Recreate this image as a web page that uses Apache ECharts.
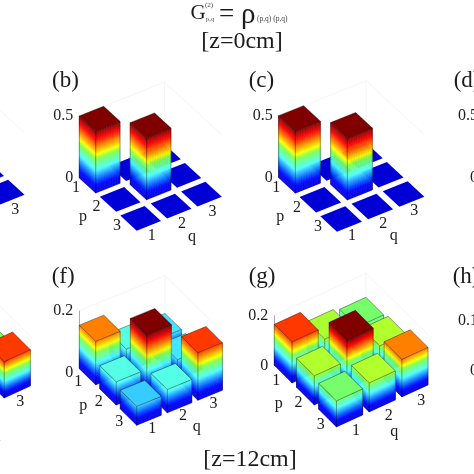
<!DOCTYPE html>
<html><head><meta charset="utf-8">
<style>html,body{margin:0;padding:0;background:#fff}#c{width:474px;height:474px}</style>
<script src="https://cdn.jsdelivr.net/npm/echarts@6/dist/echarts.min.js"></script>
</head><body><div id="c"></div>
<script>
// Values: rows are p=1..3, columns q=1..3
const panelA = [[0.5,0,0],[0,0.5,0],[0,0,0]];
const panelB = [[0.5,0,0],[0,0.5,0],[0,0,0]];
const panelC = [[0.5,0,0],[0,0.5,0],[0,0,0]];
const panelE = [[0.13,0.1,0.09],[0.1,0.177,0.095],[0.09,0.1,0.145]];
const panelF = [[0.15,0.08,0.07],[0.08,0.2,0.07],[0.065,0.08,0.164]];
const panelG = [[0.164,0.115,0.104],[0.116,0.2,0.116],[0.104,0.116,0.15]];
const pTicks = ['1','2','3'];
const qTicks = ['1','2','3'];
const zTicksTop = ['0','0.5'];
const zTicksF = ['0','0.2'];
const zTicksH = ['0','0.1'];

const SERIF = '"Liberation Serif", serif';
const TXT = '#1c1c1c';
const panels = [
  {v:panelA, o:[-118,176], pp:[20.5,18.8], pq:[30.4,-12.1], k:124, zmax:0.5, z:zTicksTop, pOff:[-3.3,10], qOff:[15,5.3], pT:[3.7,38.7], qT:[55.3,6.3]},
  {v:panelB, o:[79.3,178], pp:[20.5,18.8], pq:[30.4,-12.1], k:124, zmax:0.5, z:zTicksTop, pOff:[-3.3,10], qOff:[15,5.3], pT:[3.7,38.7], qT:[55.3,6.3]},
  {v:panelC, o:[278.7,177.7], pp:[20.8,19.3], pq:[31.2,-12.5], k:124, zmax:0.5, z:zTicksTop, pOff:[-2.4,10.3], qOff:[15,4.3], pT:[1.6,39.3], qT:[56.7,4.3]},
  {v:null, o:[484,177.5], pp:[20.5,18.8], pq:[30.4,-12.1], k:124, zmax:0.5, z:zTicksTop},
  {v:panelE, o:[-123.4,366.3], pp:[22.2,22], pq:[32.7,-15], k:250, zmax:0.2, z:zTicksF, pOff:[2,15], qOff:[16,3.4], pT:[4.4,38.4], qT:[57.8,4.4]},
  {v:panelF, o:[79.3,368.7], pp:[20.5,20.2], pq:[30.6,-12.5], k:290, zmax:0.2, z:zTicksF, zPad:9, pOff:[-1,12.6], qOff:[15.6,3.4], pT:[4,36.6], qT:[60,1.7]},
  {v:panelG, o:[274.3,365.3], pp:[22.2,22], pq:[32.7,-15], k:250, zmax:0.2, z:zTicksF, pOff:[2,15], qOff:[19.5,3.4], pT:[4.4,38.4], qT:[57.8,4.4]},
  {v:null, o:[484,371], pp:[20.5,20.2], pq:[30.6,-12.5], k:500, zmax:0.1, z:zTicksH}
];
const FRAC = 0.8;
const BANDS = 64;

function jet(t){
  t = Math.max(0, Math.min(1, t));
  const c = (x) => Math.round(255 * Math.max(0, Math.min(1, x)));
  const r = t < 0.2 ? 0 : t < 0.375 ? 0.3*(t-0.2)/0.175 : t < 0.55 ? 0.3 + 0.2*(t-0.375)/0.175 : t < 0.625 ? 0.5 + 0.5*(t-0.55)/0.075 : t < 0.875 ? 1 : 1 - (t-0.875)/0.25;
  const g = t < 0.125 ? 0 : t < 0.375 ? (t-0.125)/0.25 : t < 0.625 ? 1 : t < 0.875 ? 1 - (t-0.625)/0.25 : 0;
  const b = t < 0.125 ? 0.84 + 0.16*t/0.125 : t < 0.375 ? 1 : t < 0.625 ? 1 - (t-0.375)/0.25 : 0;
  return 'rgb(' + c(r) + ',' + c(g) + ',' + c(b) + ')';
}

function proj(api, cfg, P, Q, Z){
  return api.coord([P*cfg.pp[0] + Q*cfg.pq[0], Z - (P*cfg.pp[1] + Q*cfg.pq[1])/cfg.k]);
}

function barRenderer(cfg, maxV){
  return function(params, api){
    const P0 = api.value(0), Q0 = api.value(1), v = api.value(2);
    const children = [];
    const P1 = P0 + FRAC, Q1 = Q0 + FRAC;
    if (v > 0){
      const n = Math.max(1, Math.round(BANDS * v / maxV));
      for (let i = 0; i < n; i++){
        const z0 = v*i/n, z1 = v*(i+1)/n;
        const col = jet((i+0.5)/BANDS);
        const faces = [
          [proj(api,cfg,P0,Q0,z0), proj(api,cfg,P1,Q0,z0), proj(api,cfg,P1,Q0,z1), proj(api,cfg,P0,Q0,z1)],
          [proj(api,cfg,P1,Q0,z0), proj(api,cfg,P1,Q1,z0), proj(api,cfg,P1,Q1,z1), proj(api,cfg,P1,Q0,z1)]
        ];
        faces.forEach(f => children.push({type:'polygon', shape:{points:f}, style:{fill:col, stroke:col, lineWidth:0.5}}));
      }
    }
    const top = [proj(api,cfg,P0,Q0,v), proj(api,cfg,P1,Q0,v), proj(api,cfg,P1,Q1,v), proj(api,cfg,P0,Q1,v)];
    children.push({type:'polygon', shape:{points:top}, style:{fill:jet(v/maxV), stroke: v>0 ? 'rgba(0,0,0,0.55)' : null, lineWidth: v>0 ? 0.7 : 0}});
    if (v > 0){
      [[P0,Q0],[P1,Q0],[P1,Q1]].forEach(c => children.push({type:'line',
        shape:{x1:proj(api,cfg,c[0],c[1],0)[0], y1:proj(api,cfg,c[0],c[1],0)[1], x2:proj(api,cfg,c[0],c[1],v)[0], y2:proj(api,cfg,c[0],c[1],v)[1]},
        style:{stroke:'rgba(0,0,0,0.5)', lineWidth:0.7}}));
    }
    return {type:'group', children};
  };
}

function wallRenderer(cfg){
  return function(params, api){
    const e = 2 + FRAC, zt = cfg.zmax;
    const pts = [[0,0,zt],[0,e,zt],[e,e,zt]].map(a => proj(api,cfg,a[0],a[1],a[2]));
    const base = proj(api,cfg,0,e,0);
    const mk = (a,b) => ({type:'line', shape:{x1:a[0],y1:a[1],x2:b[0],y2:b[1]}, style:{stroke:'#f5f5f5', lineWidth:1}});
    return {type:'group', children:[mk(pts[0],pts[1]), mk(pts[1],pts[2]), mk(pts[1],base)]};
  };
}

function labelRenderer(cfg){
  return function(params, api){
    const kind = api.value(0), i = api.value(1);
    let pos, off, txt, size = 16;
    if (kind === 0){ pos = proj(api,cfg,i,0,0); off = cfg.pOff; txt = pTicks[i]; }
    else if (kind === 1){ pos = proj(api,cfg,2+FRAC,i,0); off = cfg.qOff; txt = qTicks[i]; }
    else if (kind === 2){ pos = proj(api,cfg,0,0,0); off = cfg.pT; txt = 'p'; }
    else { pos = proj(api,cfg,2+FRAC,0,0); off = cfg.qT; txt = 'q'; }
    return {type:'text', style:{text:txt, x:pos[0]+off[0], y:pos[1]+off[1], fill:TXT, fontFamily:SERIF, fontSize:size, align:'center', verticalAlign:'middle'}};
  };
}

const grids = [], xAxes = [], yAxes = [], series = [];
panels.forEach((cfg, i) => {
  const h = cfg.k * cfg.zmax;
  grids.push({left:cfg.o[0], top:cfg.o[1]-h, width:100, height:h, containLabel:false, outerBoundsMode:'none'});
  xAxes.push({gridIndex:i, type:'value', min:0, max:100, show:false});
  yAxes.push({gridIndex:i, type:'value', min:0, max:cfg.zmax, interval:cfg.zmax,
    axisLine:{show:true, onZero:false, lineStyle:{color:'#aaa', width:1}}, axisTick:{show:false}, splitLine:{show:false},
    axisLabel:{show:true, margin:6, color:TXT, fontFamily:SERIF, fontSize:16,
      formatter:(val) => val === 0 ? '{s|' + cfg.z[0] + '}' : cfg.z[1],
      rich:{s:{color:TXT, fontFamily:SERIF, fontSize:16, padding:[cfg.zPad||0,0,0,0]}}}});
  if (!cfg.v) return;
  const maxV = Math.max.apply(null, cfg.v.map(r => Math.max.apply(null, r)));
  const data = [];
  for (let p = 0; p < 3; p++) for (let q = 2; q >= 0; q--) data.push([p, q, cfg.v[p][q]]);
  series.push({type:'custom', xAxisIndex:i, yAxisIndex:i, silent:true, z:1, data:[[0]], renderItem:wallRenderer(cfg)});
  series.push({type:'custom', xAxisIndex:i, yAxisIndex:i, silent:true, z:2, data, renderItem:barRenderer(cfg, maxV)});
  const lab = [];
  pTicks.forEach((_, n) => lab.push([0, n]));
  qTicks.forEach((_, n) => lab.push([1, n]));
  lab.push([2, 0], [3, 0]);
  series.push({type:'custom', xAxisIndex:i, yAxisIndex:i, silent:true, z:3, data:lab, renderItem:labelRenderer(cfg)});
});

function txt(text, x, y, size, align, fill){
  return {type:'text', x, y, silent:true, style:{text, fontFamily:SERIF, fontSize:size, fill:fill||TXT, align:align||'left', verticalAlign:'middle'}};
}
const graphic = [
  txt('G', 190.5, 13, 21),
  txt('(2)', 205, 5, 7, 'left', '#444'),
  txt('p,q', 206, 19, 6.5, 'left', '#444'),
  txt('=', 219, 15, 27),
  txt('ρ', 241, 15, 29),
  txt('(p,q) (p,q)', 257, 19, 7.5, 'left', '#444'),
  txt('[z=0cm]', 242, 42, 24, 'center'),
  txt('[z=12cm]', 250, 460, 24, 'center'),
  txt('(b)', 52, 81, 23),
  txt('(c)', 248.7, 81, 23),
  txt('(d)', 453.7, 81, 23),
  txt('(f)', 51.7, 277, 23),
  txt('(g)', 248.7, 277, 23),
  txt('(h)', 452.7, 277, 23)
];

const chart = echarts.init(document.getElementById('c'), null, {renderer:'canvas', width:474, height:474});
chart.setOption({animation:false, backgroundColor:'#fff', grid:grids, xAxis:xAxes, yAxis:yAxes, series, graphic});
</script></body></html>
